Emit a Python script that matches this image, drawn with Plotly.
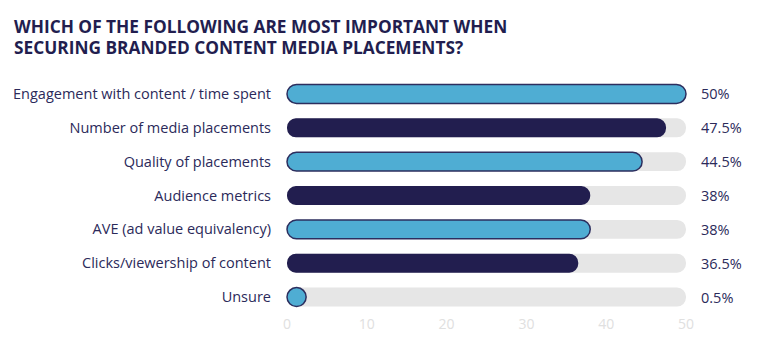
import plotly.graph_objects as go

categories = [
    "Engagement with content / time spent",
    "Number of media placements",
    "Quality of placements",
    "Audience metrics",
    "AVE (ad value equivalency)",
    "Clicks/viewership of content",
    "Unsure",
]
values = [50, 47.5, 44.5, 38, 38, 36.5, 0.5]
value_labels = ["50%", "47.5%", "44.5%", "38%", "38%", "36.5%", "0.5%"]
track_max = 50
x_ticks = [0, 10, 20, 30, 40, 50]
title_lines = [
    "WHICH OF THE FOLLOWING ARE MOST IMPORTANT WHEN",
    "SECURING BRANDED CONTENT MEDIA PLACEMENTS?",
]

LIGHT = "#4fadd3"
NAVY = "#221e4f"
OUTLINE = "#2c2e5e"
TRACK = "#e6e6e6"
TEXT = "#2b2a5a"
MIN_LEN = 2.4   # visual minimum length so a tiny bar shows as a round dot
BAR_W = 0.56
FONT = "Open Sans"

n = len(values)
colors = [LIGHT if i % 2 == 0 else NAVY for i in range(n)]
line_w = [1.5 if i % 2 == 0 else 0 for i in range(n)]
shown = [max(v, MIN_LEN) for v in values]

fig = go.Figure()
fig.add_trace(go.Bar(
    y=categories, x=[track_max] * n, base=[0] * n, orientation="h",
    marker=dict(color=TRACK, cornerradius="50%", line=dict(width=0)),
    width=BAR_W, hoverinfo="skip", showlegend=False,
))
fig.add_trace(go.Bar(
    y=categories, x=shown, base=[0] * n, orientation="h",
    marker=dict(color=colors, cornerradius="50%",
                line=dict(color=OUTLINE, width=line_w)),
    width=BAR_W, customdata=values,
    hovertemplate="%{y}: %{customdata}%<extra></extra>", showlegend=False,
))

for cat, lab in zip(categories, value_labels):
    fig.add_annotation(x=track_max, y=cat, xref="x", yref="y", text=lab,
                       showarrow=False, xanchor="left", xshift=13,
                       font=dict(family=FONT, size=14.5, color=TEXT))

L, R, T, B = 285, 80, 77, 35
plot_w = 768 - L - R
plot_h = 349 - T - B
for i, line in enumerate(title_lines):
    py = [26.5, 47][i]
    fig.add_annotation(x=(12 - L) / plot_w, y=1 - (py - T) / plot_h,
                       xref="paper", yref="paper",
                       text="<b>" + line + "</b>", showarrow=False,
                       xanchor="left", yanchor="middle",
                       font=dict(family=FONT, size=17.3, color=NAVY))

fig.update_layout(
    width=768, height=349,
    margin=dict(l=L, r=R, t=T, b=B),
    barmode="overlay",
    paper_bgcolor="white", plot_bgcolor="white",
    xaxis=dict(range=[-0.25, 50.25], tickvals=x_ticks, showgrid=False,
               zeroline=False, showline=False,
               tickfont=dict(family=FONT, size=14, color="#e0e0e0")),
    yaxis=dict(categoryorder="array", categoryarray=categories, autorange="reversed",
               showgrid=False, zeroline=False, showline=False, ticks="",
               ticklabelstandoff=13,
               tickfont=dict(family=FONT, size=14.5, color=TEXT)),
)

fig.write_html("out.html")
